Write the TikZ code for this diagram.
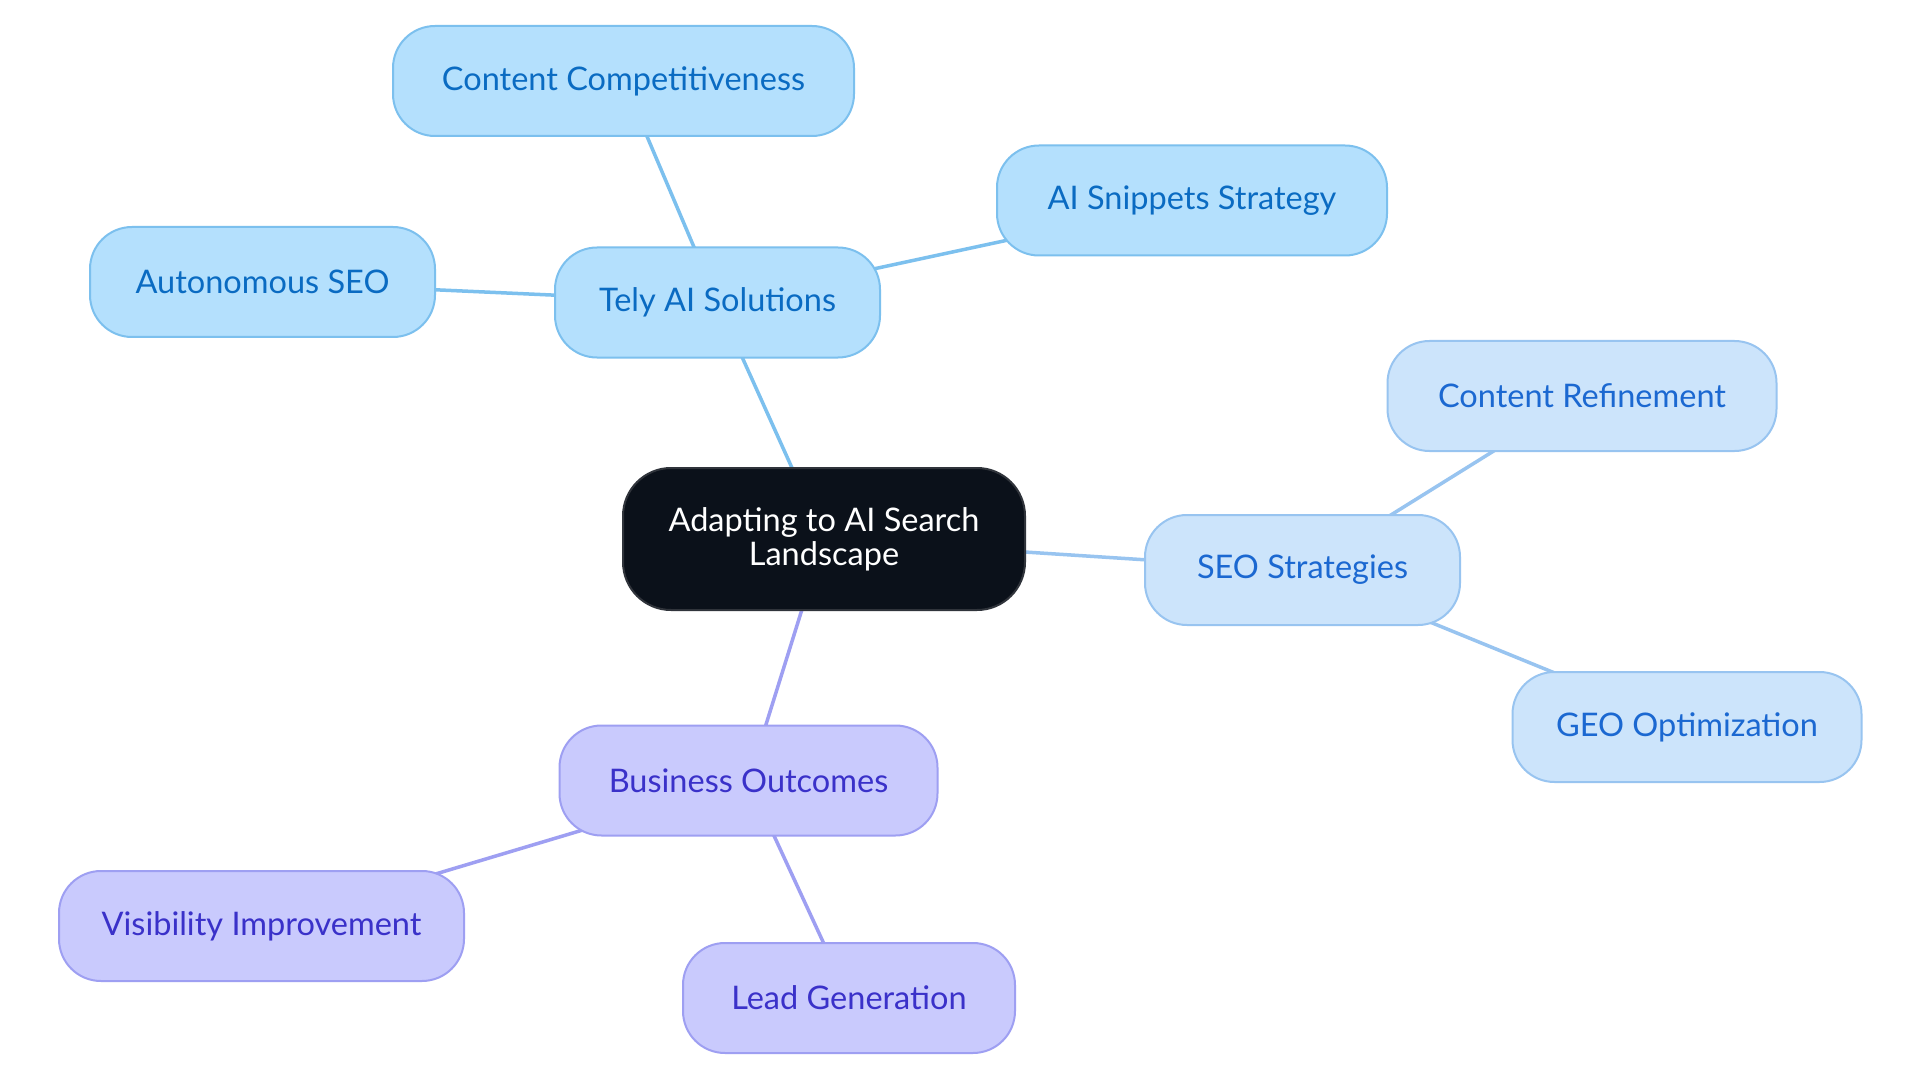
\documentclass[tikz,border=0pt]{standalone}
\usepackage{fontspec}
\setmainfont{Lato}
\usetikzlibrary{backgrounds}
\definecolor{tfill}{HTML}{B4E0FD}
\definecolor{tdraw}{HTML}{7CC0EE}
\definecolor{ttext}{HTML}{0A6BC2}
\definecolor{sfill}{HTML}{CCE4FB}
\definecolor{sdraw}{HTML}{98C4F0}
\definecolor{stext}{HTML}{1B68D1}
\definecolor{pfill}{HTML}{C9CAFD}
\definecolor{pdraw}{HTML}{9E9FF2}
\definecolor{ptext}{HTML}{3A31C9}
\definecolor{cfill}{HTML}{0B111A}
\definecolor{cdraw}{HTML}{30343B}
\begin{document}
\begin{tikzpicture}[x=1pt,y=-1pt,
  box/.style={rectangle,rounded corners=42pt,line width=2pt,inner sep=0pt,
    minimum height=110pt,font=\fontsize{32.5}{34}\selectfont,align=center},
  tbox/.style={box,fill=tfill,draw=tdraw,text=ttext},
  sbox/.style={box,fill=sfill,draw=sdraw,text=stext},
  pbox/.style={box,fill=pfill,draw=pdraw,text=ptext},
  cbox/.style={box,fill=cfill,draw=cdraw,text=white,minimum height=142pt,rounded corners=48pt},
  tline/.style={draw=tdraw,line width=3.5pt},
  sline/.style={draw=sdraw,line width=3.5pt},
  pline/.style={draw=pdraw,line width=3.5pt}]
\useasboundingbox (0,0) rectangle (1920,1083);
\node[cbox,minimum width=402pt] (c) at (824,539) {Adapting to AI Search\\Landscape};
\node[tbox,minimum width=325pt] (tely) at (717.5,302.5) {Tely AI Solutions};
\node[tbox,minimum width=461pt] (cc) at (623.5,81) {Content Competitiveness};
\node[tbox,minimum width=390pt] (snip) at (1192,200.5) {AI Snippets Strategy};
\node[tbox,minimum width=345pt] (auto) at (262.5,282) {Autonomous SEO};
\node[sbox,minimum width=315pt] (seo) at (1302.5,570) {SEO Strategies};
\node[sbox,minimum width=389pt] (cref) at (1582,396) {Content Refinement};
\node[sbox,minimum width=349pt] (geo) at (1687,727) {GEO Optimization};
\node[pbox,minimum width=378pt] (bus) at (748.5,780.5) {Business Outcomes};
\node[pbox,minimum width=405pt] (vis) at (261.5,926) {Visibility Improvement};
\node[pbox,minimum width=332pt] (lead) at (849,998) {Lead Generation};
\begin{scope}[on background layer]
\fill[white] (0,0) rectangle (1920,1083);
\path[tline] (c.center) -- (tely.center);
\path[tline] (tely.center) -- (cc.center);
\path[tline] (tely.center) -- (snip.center);
\path[tline] (tely.center) -- (auto.center);
\path[sline] (c.center) -- (seo.center);
\path[sline] (seo.center) -- (cref.center);
\path[sline] (seo.center) -- (geo.center);
\path[pline] (c.center) -- (bus.center);
\path[pline] (bus.center) -- (vis.center);
\path[pline] (bus.center) -- (lead.center);
\end{scope}
\end{tikzpicture}
\end{document}
